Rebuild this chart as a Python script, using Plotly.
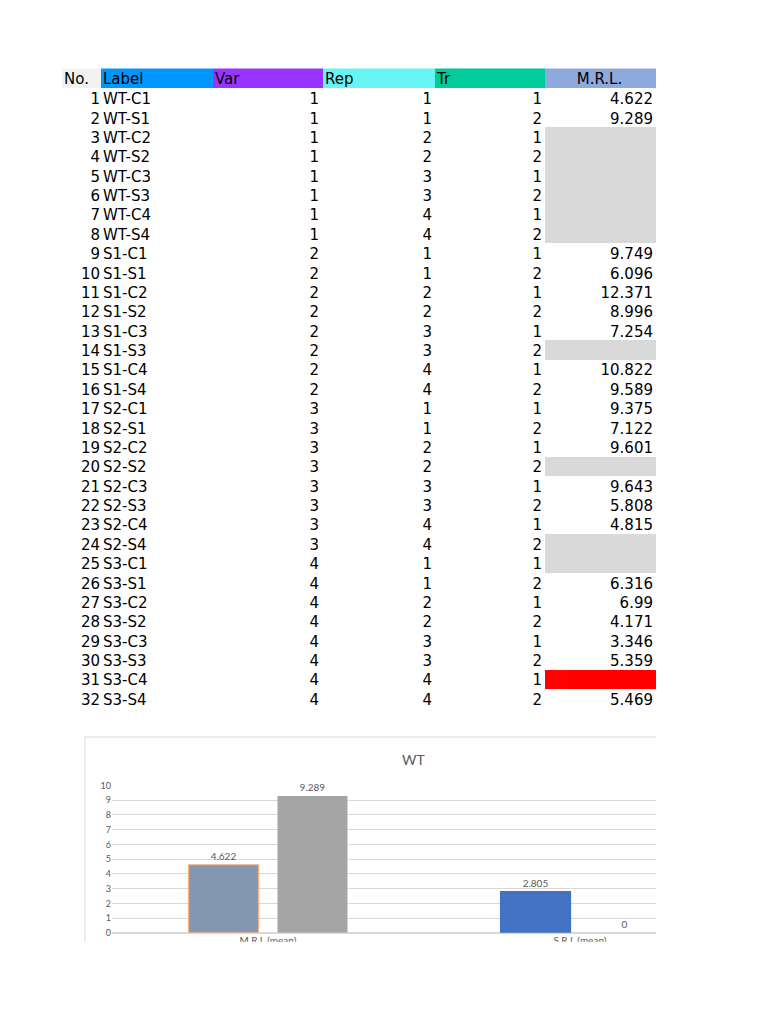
import plotly.graph_objects as go

# ---------------- table data ----------------
header = ["No.", "Label", "Var", "Rep", "Tr", "M.R.L."]
row_no = [1, 2, 3, 4, 5, 6, 7, 8, 9, 10, 11, 12, 13, 14, 15, 16,
          17, 18, 19, 20, 21, 22, 23, 24, 25, 26, 27, 28, 29, 30, 31, 32]
labels = ["WT-C1", "WT-S1", "WT-C2", "WT-S2", "WT-C3", "WT-S3", "WT-C4", "WT-S4",
          "S1-C1", "S1-S1", "S1-C2", "S1-S2", "S1-C3", "S1-S3", "S1-C4", "S1-S4",
          "S2-C1", "S2-S1", "S2-C2", "S2-S2", "S2-C3", "S2-S3", "S2-C4", "S2-S4",
          "S3-C1", "S3-S1", "S3-C2", "S3-S2", "S3-C3", "S3-S3", "S3-C4", "S3-S4"]
var = [1, 1, 1, 1, 1, 1, 1, 1, 2, 2, 2, 2, 2, 2, 2, 2,
       3, 3, 3, 3, 3, 3, 3, 3, 4, 4, 4, 4, 4, 4, 4, 4]
rep = [1, 1, 2, 2, 3, 3, 4, 4, 1, 1, 2, 2, 3, 3, 4, 4,
       1, 1, 2, 2, 3, 3, 4, 4, 1, 1, 2, 2, 3, 3, 4, 4]
tr = [1, 2, 1, 2, 1, 2, 1, 2, 1, 2, 1, 2, 1, 2, 1, 2,
      1, 2, 1, 2, 1, 2, 1, 2, 1, 2, 1, 2, 1, 2, 1, 2]
mrl = [4.622, 9.289, None, None, None, None, None, None,
       9.749, 6.096, 12.371, 8.996, 7.254, None, 10.822, 9.589,
       9.375, 7.122, 9.601, None, 9.643, 5.808, 4.815, None,
       None, 6.316, 6.99, 4.171, 3.346, 5.359, None, 5.469]
red_rows = [31]

# ---------------- chart data ----------------
chart_title = "WT"
categories = ["M.R.L (mean)", "S.R.L (mean)"]
series_a = [4.622, 2.805]
series_b = [9.289, 0]

# page offset of the plot div (default body margin) and figure size
OX, OY = 8, 8
W, H = 752, 1008
CY = 3  # vertical correction for chart-area elements


def px_x(x):
    return (x - OX) / W


def px_y(y):
    return 1 - (y - OY) / H


def cy(y):
    return px_y(y + CY)


mrl_text = ["" if v is None else str(v) for v in mrl]
mrl_fill = []
for n, v in zip(row_no, mrl):
    if n in red_rows:
        mrl_fill.append("#FF0000")
    elif v is None:
        mrl_fill.append("#D9D9D9")
    else:
        mrl_fill.append("white")
n_rows = len(row_no)
white_col = ["white"] * n_rows
blank_col = [""] * n_rows
CLEAR = "rgba(0,0,0,0)"
FONT = dict(family="DejaVu Sans", size=15, color="black")
ROW_H = 19.375
HDR_H = 20

TABLE_TOP = 68 - 5      # compensate for table internal top offset
TEXT_SHIFT = 3.5        # text sits low in plotly cells
TABLE_BOTTOM = 740

fig = go.Figure()

# cell fills
fig.add_trace(go.Table(
    domain=dict(x=[px_x(62), px_x(656)], y=[px_y(TABLE_BOTTOM), px_y(TABLE_TOP)]),
    columnwidth=[39, 112, 110, 112, 110, 111],
    header=dict(values=[""] * 6,
                fill_color=["#F2F2F2", "#0096FF", "#9933FF", "#66F5F2", "#00CC99", "#8EA9DB"],
                line=dict(width=0, color=CLEAR), height=HDR_H),
    cells=dict(values=[blank_col] * 6,
               fill_color=[white_col] * 5 + [mrl_fill],
               line=dict(width=0, color=CLEAR), height=ROW_H),
))

# text columns: (values, header align, cell align, domain left, domain right)
text_cols = [
    (row_no, "left", "right", 56, 108),
    (labels, "left", "left", 95, 213),
    (var, "left", "right", 207, 328),
    (rep, "left", "right", 317, 440),
    (tr, "left", "right", 429, 551),
    (mrl_text, "center", "right", 538, 662),
]
for hdr, (vals, h_al, c_al, x0, x1) in zip(header, text_cols):
    fig.add_trace(go.Table(
        domain=dict(x=[px_x(x0), px_x(x1)],
                    y=[px_y(TABLE_BOTTOM), px_y(TABLE_TOP - TEXT_SHIFT)]),
        header=dict(values=[hdr], align=h_al, font=FONT, fill_color=CLEAR,
                    line=dict(width=0, color=CLEAR), height=HDR_H),
        cells=dict(values=[vals], align=c_al, font=FONT, fill_color=CLEAR,
                   line=dict(width=0, color=CLEAR), height=ROW_H),
    ))

fig.add_trace(go.Bar(
    x=categories, y=series_a,
    marker=dict(color=["#8497B0", "#4472C4"],
                line=dict(color=["#F4B183", "#4472C4"], width=1.2)),
    texttemplate="%{y}", textposition="outside",
    textfont=dict(family="Lato", size=10, color="#595959"),
    cliponaxis=False, showlegend=False,
))
fig.add_trace(go.Bar(
    x=categories, y=series_b,
    marker=dict(color="#A5A5A5", line=dict(width=0)),
    texttemplate="%{y}", textposition="outside",
    textfont=dict(family="Lato", size=10, color="#595959"),
    cliponaxis=False, showlegend=False,
))

x_left, x_full_right, x_clip = 112, 736, 656
xr_end = -0.5 + (x_clip - x_left) / (x_full_right - x_left) * 2

fig.update_layout(
    width=W, height=H,
    margin=dict(l=0, r=0, t=0, b=0),
    paper_bgcolor="white", plot_bgcolor="white",
    barmode="group", bargap=0.43, bargroupgap=0.213,
    xaxis=dict(domain=[px_x(x_left), px_x(x_clip)], range=[-0.5, xr_end],
               type="category", showgrid=False, zeroline=False, showline=False,
               ticks="", tickfont=dict(family="Lato", size=10, color="#595959")),
    yaxis=dict(domain=[cy(934), cy(785)], range=[0, 10], dtick=1,
               showgrid=True, gridcolor="#D9D9D9", gridwidth=1,
               zeroline=True, zerolinecolor="#D9D9D9", showline=False,
               ticks="", tickfont=dict(family="Lato", size=9, color="#595959")),
    font=dict(family="DejaVu Sans"),
    annotations=[dict(text=chart_title, x=px_x(413), y=cy(759), xref="paper", yref="paper",
                      xanchor="center", yanchor="middle", showarrow=False,
                      font=dict(family="Lato", size=14, color="#595959"))],
    shapes=[
        dict(type="line", xref="paper", yref="paper", x0=px_x(85), x1=px_x(656),
             y0=cy(736), y1=cy(736), line=dict(color="#D9D9D9", width=1)),
        dict(type="line", xref="paper", yref="paper", x0=px_x(85), x1=px_x(85),
             y0=cy(736), y1=cy(943), line=dict(color="#D9D9D9", width=1)),
        dict(type="rect", xref="paper", yref="paper", x0=0, x1=1,
             y0=0, y1=cy(943), fillcolor="white", line=dict(width=0), layer="above"),
    ],
)

fig.write_html("out.html")
